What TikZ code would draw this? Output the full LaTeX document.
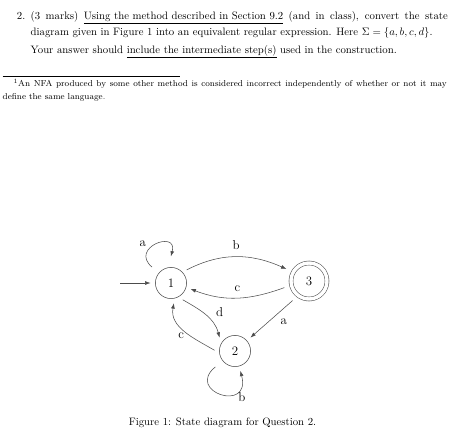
\documentclass[tikz,border=0pt]{standalone}
\usetikzlibrary{arrows.meta}
\begin{document}
\begin{tikzpicture}[x = .93pt, y = .93pt, >={Latex[length=5pt,width=3.5pt]},
	state/.style = {circle, draw = black!70, line width = .5pt, minimum size = 29pt, inner sep = 0pt, outer sep = 4.5pt, font = \large},
	accept/.style = {state, double, double distance = 3.2pt, minimum size = 33.5pt, outer sep = 7pt},
	arc/.style = {->, draw = black!70, line width = .5pt},
	lbl/.style = {font = \large}]
				\useasboundingbox (0,0) rectangle (474,-440);
				% question text
				\node[anchor = base west, inner sep = 0pt, text width = 388pt, align = justify, font = \fontsize{10}{14.9}\selectfont] (item) at (30.5,-19) {\llap{2.\hspace{5pt}}(3 marks) \underline{Using the method described in Section 9.2} (and in class), convert the state\linebreak diagram given in Figure 1 into an equivalent regular expression. Here $\Sigma = \{a, b, c, d\}$.};
				\node[anchor = base west, inner sep = 0pt] (hint) at (30.5,-53.3) {Your answer should \underline{include the intermediate step(s)} used in the construction.};
				% footnote
				\draw[line width = .4pt] (2.5,-76.3) -- (180,-76.3); %rule
				\node[anchor = base west, inner sep = 0pt, text width = 413pt, align = justify, font = \fontsize{8}{11.7}\selectfont] (note) at (2.5,-86.7) {\makebox[1.8em][r]{\textsuperscript{1}}An NFA produced by some other method is considered incorrect independently of whether or not it may\linebreak define the same language.};
				% states
				\node[state] (n1) at (171,-283) {1};
				\node[state] (n2) at (235,-351) {2};
				\node[accept] (n3) at (309,-281) {3};
				\coordinate (init) at (120,-283);
				% transitions
				\draw[arc] (init) -- (n1);
				\draw[arc, shorten < = 4pt, shorten > = 6pt] (n1.140) to[out = 140, in = 75, distance = 32pt] node[pos = .35, above left, lbl] {a} (n1.95);
				\draw[arc] (n1.40) to[out = 27, in = 156] node[above = 3pt, lbl] {b} (n3.152);
				\draw[arc] (n3.195) to[out = 200, in = -21] node[above = 2pt, lbl] {c} (n1.-17);
				\draw[arc] (n1.-55) to[out = -30, in = 105] node[right = 6pt, yshift = 3pt, lbl] {d} (n2.139);
				\draw[arc] (n2.178) to[out = 150, in = -100] node[pos = .4, left = 2pt, lbl] {c} (n1.-82);
				\draw[arc] (n3.230) -- node[right = 5pt, yshift = -2pt, lbl] {a} (n2.41);
				\draw[arc, shorten < = 4.5pt] (n2.219) to[out = 219, in = 285, distance = 41pt] node[pos = .75, below right, inner sep = 1pt, lbl] {b} (n2.-75);
				% caption
				\node[anchor = base] (cap) at (222.5,-425) {Figure 1: State diagram for Question 2.};
\end{tikzpicture}
\end{document}
